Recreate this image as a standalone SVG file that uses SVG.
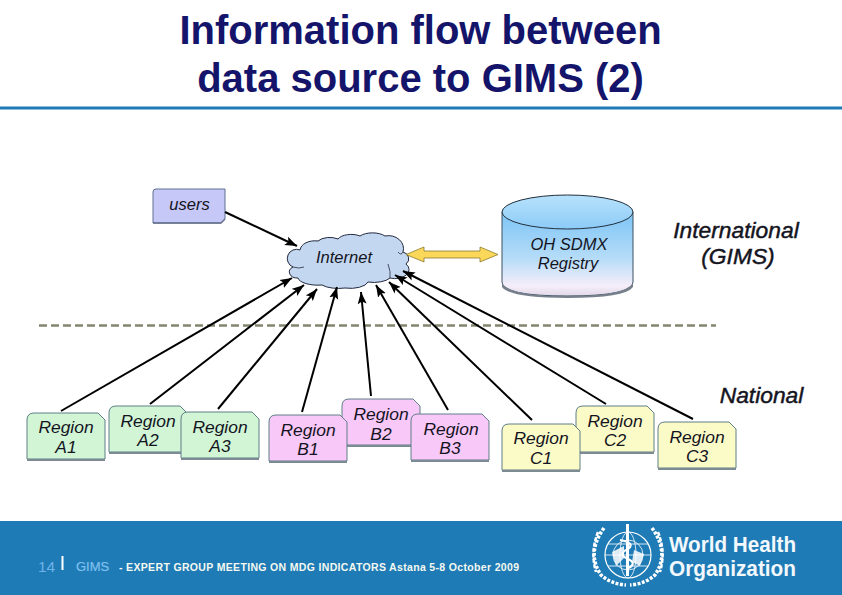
<svg xmlns="http://www.w3.org/2000/svg" xmlns:xlink="http://www.w3.org/1999/xlink" width="842" height="595" viewBox="0 0 842 595">
<style>
text{font-family:"Liberation Sans",Arial,sans-serif}
.t{font-style:italic;fill:#14141e;text-anchor:middle}
.lbl{font-size:17.400px}
.sm{font-size:16.500px}
.big{font-size:22.800px;stroke:#14141e;stroke-width:.45}
.body{stroke:#5f7f86;stroke-width:1}
.a{fill:#d2f5d6}.b{fill:#f8c8f8}.c{fill:#fbfbc8}
.sh{fill:#7c8a94}
.conn line{stroke:#000;stroke-width:2;marker-end:url(#arr)}
.logo{fill:none;stroke:#fff}
</style>
<defs>
<marker id="arr" markerUnits="userSpaceOnUse" markerWidth="13" markerHeight="10" refX="12" refY="5" orient="auto"><path d="M0 0.500L12 5L0 9.500L2.500 5z" fill="#000"/></marker>
<path id="reg" d="M0 7Q0 0 7 0H71L78 7V46H0z"/>
<linearGradient id="cyl" x1="0" y1="0" x2="0" y2="1"><stop offset="0" stop-color="#7cc4f6"/><stop offset=".55" stop-color="#b5dcf8"/><stop offset=".88" stop-color="#f6eefa"/><stop offset="1" stop-color="#e2d8e8"/></linearGradient>
<linearGradient id="cyt" x1="0" y1="0" x2="0" y2="1"><stop offset="0" stop-color="#b8e2fb"/><stop offset="1" stop-color="#8ccbf8"/></linearGradient>
</defs>
<rect width="842" height="595" fill="#fff"/>
<g id="title" font-size="40" font-weight="bold" fill="#14146a" text-anchor="middle">
<text x="420.500" y="44">Information flow between</text>
<text x="420.500" y="92">data source to GIMS (2)</text>
</g>
<rect x="0" y="106.500" width="842" height="3" fill="#1f7bb6"/>
<line id="divider" x1="39" y1="325.500" x2="716" y2="325.500" stroke="#85856f" stroke-width="2.500" stroke-dasharray="8 4"/>
<g id="users">
<path d="M153 192Q153 189 156 189H225V219L221 223H153z" fill="#c6c8f8" stroke="#5f7090"/>
<path d="M153 223H221L225 219" fill="none" stroke="#66708c" stroke-width="1.500"/>
<text class="t sm" x="189.500" y="209.500">users</text>
</g>
<g id="internet">
<path d="M293 267A7 7 0 0 1 300 250A15 10 0 0 1 318 241A14 8 0 0 1 338 239A14 7 0 0 1 360 236A15 7 0 0 1 385 236A15 13 0 0 1 403 252A8 7 0 0 1 406 264A14 9 0 0 1 390 278A18 8 0 0 1 368 282A18 8 0 0 1 345 288A20 8 0 0 1 322 285A20 8 0 0 1 298 278A8 6 0 0 1 293 267z" fill="#c3d8f0" stroke="#23293f" stroke-width="1"/>
<path d="M293 267Q299 269 304 267M388 264Q391 272 390 278M398 252Q401 256 403 252" fill="none" stroke="#23293f" stroke-width=".8"/>
<text class="t sm" x="344" y="262.500">Internet</text>
</g>
<g id="registry">
<path d="M502 212V282Q502 296 567.500 296Q633 296 633 282V212z" fill="url(#cyl)" stroke="#3c5060" stroke-width="1"/>
<path d="M502 283Q510 296 567.500 296Q625 296 633 283V287Q625 298 567.500 298Q510 298 502 287z" fill="#76808c"/>
<ellipse cx="567.500" cy="212" rx="65.500" ry="17" fill="url(#cyt)" stroke="#23303c" stroke-width="1"/>
<text class="t sm" x="569" y="250">OH SDMX</text>
<text class="t sm" x="568" y="269">Registry</text>
</g>
<g id="link-yellow">
<path d="M406 254.500L424 247V251H480V247L498 254.500L480 262V258H424V262z" fill="#fbd85a" stroke="#8a7a30" stroke-width=".8"/>
</g>
<g class="conn" id="connectors">
<line x1="225" y1="212" x2="297" y2="246"/>
<line x1="61" y1="411" x2="292" y2="278"/>
<line x1="150" y1="404" x2="304" y2="285"/>
<line x1="218" y1="409" x2="317" y2="289"/>
<line x1="302" y1="412" x2="337" y2="287"/>
<line x1="371" y1="396" x2="361" y2="292"/>
<line x1="448" y1="410" x2="376" y2="285"/>
<line x1="532" y1="420" x2="389" y2="282"/>
<line x1="606" y1="404" x2="395" y2="275"/>
<line x1="693" y1="419" x2="403" y2="271"/>
</g>
<g id="region-a1"><use xlink:href="#reg" x="27" y="413" class="a body"/><rect class="sh" x="27" y="459" width="78" height="2"/><text class="t lbl" x="66" y="433">Region</text><text class="t lbl" x="66" y="453">A1</text></g>
<g id="region-a2"><use xlink:href="#reg" x="109" y="406" class="a body"/><rect class="sh" x="109" y="452" width="78" height="2"/><text class="t lbl" x="148" y="427">Region</text><text class="t lbl" x="148" y="446">A2</text></g>
<g id="region-a3"><use xlink:href="#reg" x="181" y="412" class="a body"/><rect class="sh" x="181" y="458" width="78" height="2"/><text class="t lbl" x="220" y="433">Region</text><text class="t lbl" x="220" y="452">A3</text></g>
<g id="region-b2"><use xlink:href="#reg" x="342" y="399" class="b body"/><rect class="sh" x="342" y="445" width="78" height="2"/><text class="t lbl" x="381" y="420">Region</text><text class="t lbl" x="381" y="440">B2</text></g>
<g id="region-b1"><use xlink:href="#reg" x="269" y="415" class="b body"/><rect class="sh" x="269" y="461" width="78" height="2"/><text class="t lbl" x="308" y="436">Region</text><text class="t lbl" x="308" y="455">B1</text></g>
<g id="region-b3"><use xlink:href="#reg" x="411" y="414" class="b body"/><rect class="sh" x="411" y="460" width="78" height="2"/><text class="t lbl" x="451" y="435">Region</text><text class="t lbl" x="450" y="454">B3</text></g>
<g id="region-c2"><use xlink:href="#reg" x="576" y="406" class="c body"/><rect class="sh" x="576" y="452" width="78" height="2"/><text class="t lbl" x="615" y="427">Region</text><text class="t lbl" x="615" y="446">C2</text></g>
<g id="region-c1"><use xlink:href="#reg" x="502" y="424" class="c body"/><rect class="sh" x="502" y="470" width="78" height="2"/><text class="t lbl" x="541" y="444">Region</text><text class="t lbl" x="541" y="464">C1</text></g>
<g id="region-c3"><use xlink:href="#reg" x="658" y="422" class="c body"/><rect class="sh" x="658" y="468" width="78" height="2"/><text class="t lbl" x="697" y="443">Region</text><text class="t lbl" x="697" y="462">C3</text></g>
<g id="levels">
<text class="t big" x="736" y="238">International</text>
<text class="t big" x="738" y="264">(GIMS)</text>
<text class="t big" x="761.500" y="403">National</text>
</g>
<g id="footer">
<rect x="0" y="521" width="842" height="74" fill="#1f7bb6"/>
<text x="38" y="572" font-size="15.500" fill="#6db3ea">14</text>
<rect x="61.500" y="556" width="2" height="14" fill="#fff"/>
<text x="76" y="571" font-size="13" fill="#7fc0f0" stroke="#7fc0f0" stroke-width=".2">GIMS</text>
<text x="119" y="571" font-size="10.500" font-weight="bold" fill="#f4f8f0" textLength="400" lengthAdjust="spacing">- EXPERT GROUP MEETING ON MDG INDICATORS Astana 5-8 October 2009</text>
</g>
<g id="who-logo">
<g class="logo">
<circle cx="628" cy="555" r="23" stroke-width="1.200"/>
<circle cx="628" cy="555" r="15" stroke-width=".8"/>
<ellipse cx="628" cy="555" rx="8" ry="23" stroke-width=".8"/>
<path d="M605 555H651M608 544H648M608 566H648" stroke-width=".8"/>
<path d="M627.500 524V576" stroke-width="3"/>
<path d="M620 540Q636 543 628 549Q617 554 628 559Q637 563 629 568" stroke-width="2.200"/>
<path d="M604 528Q586 553 601 575Q611 584 626 585" stroke-width="3.500" stroke-dasharray="3 1.500"/>
<path d="M652 528Q670 553 655 575Q645 584 630 585" stroke-width="3.500" stroke-dasharray="3 1.500"/>
<path d="M598 532Q590 552 596 572M658 532Q666 552 660 572" stroke-width="2.500" stroke-dasharray="4 1.500"/>
</g>
<path d="M612 552L624 546L624 558L616 566zM634 550L644 554L640 566L632 562z" fill="#fff" opacity=".85"/>
<text x="669" y="552" font-size="22.500" font-weight="bold" fill="#f2f8fc" textLength="127" lengthAdjust="spacingAndGlyphs">World Health</text>
<text x="669" y="576" font-size="22.500" font-weight="bold" fill="#f2f8fc" textLength="127" lengthAdjust="spacingAndGlyphs">Organization</text>
</g>
</svg>
